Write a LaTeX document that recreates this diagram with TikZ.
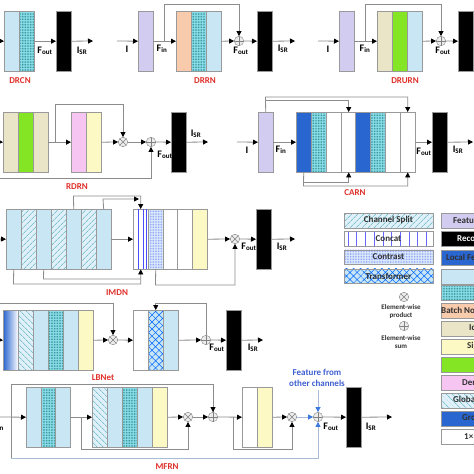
\documentclass[tikz,border=0pt]{standalone}
\usepackage{fontspec}
\setmainfont{Carlito}
\usetikzlibrary{arrows.meta,patterns.meta}
\definecolor{lbluec}{HTML}{C9E6F5}
\definecolor{cyanc}{HTML}{8EE0EC}
\definecolor{pchc}{HTML}{F8CBAD}
\definecolor{khkc}{HTML}{E9E5C6}
\definecolor{grnc}{HTML}{84E524}
\definecolor{pnkc}{HTML}{F6C5F2}
\definecolor{ylwc}{HTML}{FDF9C4}
\definecolor{lvdc}{HTML}{D3CCF1}
\definecolor{dkbc}{HTML}{2A66CF}
\definecolor{hatchc}{HTML}{4CA9B8}
\definecolor{wirec}{HTML}{8C8C8C}
\definecolor{bwirec}{HTML}{A9BCD6}
\definecolor{redlbl}{HTML}{E0302A}
\definecolor{bluelbl}{HTML}{3F5FD0}
\definecolor{barrow}{HTML}{3A78E0}
\definecolor{txtc}{HTML}{303030}

\begin{document}
\begin{tikzpicture}[x=1pt,y=-1pt,font=\bfseries,
  seg/.style={draw=gray!80,minimum width=15pt,minimum height=60pt,inner sep=0pt,anchor=north west},
  lb/.style={fill=lbluec},
  cy/.style={preaction={fill=cyanc},pattern={Dots[distance=1.6pt,radius=0.4pt]},pattern color=teal!80!black},
  dt/.style={preaction={fill=lbluec!70},pattern={Dots[distance=1.6pt,radius=0.4pt]},pattern color=blue!55},
  hne/.style={preaction={fill=lbluec!60},pattern={Lines[angle=45,distance=4pt,line width=0.5pt]},pattern color=hatchc},
  hnw/.style={preaction={fill=lbluec!60},pattern={Lines[angle=-45,distance=4pt,line width=0.5pt]},pattern color=hatchc},
  xh/.style={preaction={fill=lbluec},pattern={Hatch[angle=45,distance=5pt,line width=0.5pt]},pattern color=blue!60!cyan},
  cc/.style={fill=white,pattern={Lines[angle=90,distance=8.7pt,line width=0.6pt]},pattern color=blue!60},
  pch/.style={fill=pchc}, khk/.style={fill=khkc}, grn/.style={fill=grnc},
  pnk/.style={fill=pnkc}, ylw/.style={fill=ylwc}, lvd/.style={fill=lvdc},
  dkb/.style={fill=dkbc}, wht/.style={fill=white}, blk/.style={fill=black},
  grd/.style={left color=dkbc,right color=white},
  wire/.style={draw=wirec,line width=0.8pt},
  conn/.style={wire,-{Triangle[length=5pt,width=5pt,color=black]}},
  bconn/.style={draw=bwirec,line width=0.8pt,-{Triangle[length=5pt,width=5pt,color=barrow]}},
  opc/.style={circle,draw=gray,fill=gray!15,minimum size=9.5pt,inner sep=0pt},
  oplus/.style={opc,path picture={\draw[gray] (path picture bounding box.north) -- (path picture bounding box.south) (path picture bounding box.west) -- (path picture bounding box.east);}},
  otimes/.style={opc,path picture={\draw[gray] (path picture bounding box.north west) -- (path picture bounding box.south east) (path picture bounding box.north east) -- (path picture bounding box.south west);}},
  lbl/.style={inner sep=0pt,font=\bfseries\normalsize},
  netlbl/.style={inner sep=0pt,text=redlbl,font=\bfseries\fontsize{9}{10}\selectfont},
  lgbox/.style={draw=gray!80,minimum width=89pt,minimum height=14.5pt,inner sep=0pt,text=txtc,font=\bfseries\small},
  rbox/.style={draw=gray!80,minimum width=90pt,minimum height=14.5pt,inner sep=0pt,anchor=north west},
  rtxt/.style={inner sep=0pt,anchor=west,font=\bfseries\small}]
\useasboundingbox (0,0) rectangle (474,474);
\fill[white] (0,0) rectangle (474,474);
\clip (0,0) rectangle (474,474);

% DRCN
\coordinate (drcnI) at (0,41);
\foreach \x/\s [count=\i] in {4/lb,19/cy} \node[seg,\s] (drcn\i) at (\x,11) {};
\node[seg,blk] (drcnR) at (56,11) {};
\coordinate (drcnO) at (93,41);
\draw[conn] (drcnI) -- (drcn1.west);
\draw[conn] (drcn2.east) -- (drcnR.west);
\draw[conn] (drcnR.east) -- (drcnO);
\node[lbl] (drcnF) at (45,51) {F\textsubscript{out}};
\node[lbl] (drcnS) at (82,51) {I\textsubscript{SR}};
\node[netlbl] (drcnN) at (20,81) {DRCN};

% DRRN
\coordinate (drrnI) at (117,41);
\node[seg,lvd] (drrnE) at (138,11) {};
\foreach \x/\s [count=\i] in {176/pch,191/cy,206/lb} \node[seg,\s] (drrn\i) at (\x,11) {};
\node[oplus] (drrnP) at (239,41) {};
\node[seg,blk] (drrnR) at (257,11) {};
\coordinate (drrnO) at (295,41);
\coordinate (drrnB) at (164,41);
\draw[conn] (drrnI) -- (drrnE.west);
\draw[conn] (drrnE.east) -- (drrn1.west);
\draw[conn] (drrnB) -- (164,4) -| (drrnP.north);
\draw[conn] (drrn3.east) -- (drrnP.west);
\draw[conn] (drrnP.east) -- (drrnR.west);
\draw[conn] (drrnR.east) -- (drrnO);
\node[lbl] (drrnIl) at (127,49) {I};
\node[lbl] (drrnFi) at (162,49) {F\textsubscript{in}};
\node[lbl] (drrnF) at (241,51) {F\textsubscript{out}};
\node[lbl] (drrnS) at (283,49) {I\textsubscript{SR}};
\node[netlbl] (drrnN) at (205,81) {DRRN};

% DRURN
\coordinate (drurnI) at (318,41);
\node[seg,lvd] (drurnE) at (339,11) {};
\foreach \x/\s [count=\i] in {377/khk,392/grn,407/lb} \node[seg,\s] (drurn\i) at (\x,11) {};
\node[oplus] (drurnP) at (441,41) {};
\node[seg,blk] (drurnR) at (458,11) {};
\coordinate (drurnB) at (365,41);
\draw[conn] (drurnI) -- (drurnE.west);
\draw[conn] (drurnE.east) -- (drurn1.west);
\draw[conn] (drurnB) -- (365,4) -| (drurnP.north);
\draw[conn] (drurn3.east) -- (drurnP.west);
\draw[conn] (drurnP.east) -- (drurnR.west);
\node[lbl] (drurnIl) at (328,49) {I};
\node[lbl] (drurnFi) at (365,49) {F\textsubscript{in}};
\node[lbl] (drurnF) at (443,51) {F\textsubscript{out}};
\node[netlbl] (drurnN) at (405,81) {DRURN};

% RDRN
\coordinate (rdrnI) at (0,142);
\foreach \x/\s [count=\i] in {3/khk,18/grn,33/khk} \node[seg,\s] (rdrn\i) at (\x,112) {};
\foreach \x/\s [count=\i] in {71/pnk,86/ylw} \node[seg,\s] (rdrnM\i) at (\x,112) {};
\node[otimes] (rdrnX) at (123,142) {};
\node[oplus] (rdrnP) at (151,142) {};
\node[seg,blk] (rdrnR) at (171,112) {};
\coordinate (rdrnO) at (208,142);
\coordinate (rdrnB) at (55,142);
\coordinate (rdrnL) at (0,178);
\draw[conn] (rdrnI) -- (rdrn1.west);
\draw[conn] (rdrn3.east) -- (rdrnM1.west);
\draw[conn] (rdrnB) -- (55,104) -| (rdrnX.north);
\draw[conn] (rdrnM2.east) -- (rdrnX.west);
\draw[conn] (rdrnX.east) -- (rdrnP.west);
\draw[conn] (rdrnL) -| (rdrnP.south);
\draw[conn] (rdrnP.east) -- (rdrnR.west);
\draw[conn] (rdrnR.east) -- (rdrnO);
\node[lbl] (rdrnS) at (196,134) {I\textsubscript{SR}};
\node[lbl] (rdrnF) at (165,155) {F\textsubscript{out}};
\node[netlbl] (rdrnN) at (77,187) {RDRN};

% CARN
\coordinate (carnI) at (237,142);
\node[seg,lvd] (carnE) at (258,112) {};
\foreach \x/\s [count=\i] in {296/dkb,311/cy,326/wht,341/wht,355/dkb,370/cy,385/wht,400/wht} \node[seg,\s] (carn\i) at (\x,112) {};
\node[seg,blk] (carnR) at (432,112) {};
\coordinate (carnO) at (473,142);
\draw[conn] (carnI) -- (carnE.west);
\draw[conn] (carnE.east) -- (carn1.west);
\draw[conn] (carnE.north) -- (265.5,97) -| (carn8.north);
\draw[conn] (265.5,100) -| (carn4.north);
\draw[conn] (carn1.south) -- (303.5,186) -| (carn8.south);
\draw[conn] (303.5,182) -| (carn4.south);
\draw[conn] (carn8.east) -- (carnR.west);
\draw[conn] (carnR.east) -- (carnO);
\node[lbl] (carnIl) at (247,150) {I};
\node[lbl] (carnFi) at (281,150) {F\textsubscript{in}};
\node[lbl] (carnF) at (424,152) {F\textsubscript{out}};
\node[lbl] (carnS) at (458,150) {I\textsubscript{SR}};
\node[netlbl] (carnN) at (355,193) {CARN};

% IMDN
\coordinate (imdnI) at (0,239);
\foreach \x/\s [count=\i] in {6/lb,21/hne,36/lb,51/hne,66/lb,81/hne,96/lb} \node[seg,\s] (imdn\i) at (\x,209) {};
\foreach \x/\s [count=\i] in {133/wht,148/dt,163/wht,177/wht,192/ylw} \node[seg,\s] (imdnM\i) at (\x,209) {};
\foreach \x in {138,143.5,146} \draw[blue!70,line width=0.6pt] (\x,209) -- (\x,269);
\node[otimes] (imdnX) at (235,239) {};
\node[seg,blk] (imdnR) at (256,209) {};
\coordinate (imdnO) at (295,239);
\draw[conn] (imdnI) -- (imdn1.west);
\draw[conn] (imdn7.east) -- (imdnM1.west);
\draw[conn] (imdn5.north) -- (73.5,196) -| (imdnM1.north);
\draw[conn] (imdn7.north) -- (103,199) -- (139,199);
\draw[conn] (imdn1.south) -- (13.5,284) -| (imdnM1.south);
\draw[wire] (imdn3.south) -- (43.5,279) -- (140.5,279);
\draw[conn] (imdnM2.south) -- (155.5,285) -| (imdnX.south);
\draw[conn] (imdnM5.east) -- (imdnX.west);
\draw[conn] (imdnX.east) -- (imdnR.west);
\draw[conn] (imdnR.east) -- (imdnO);
\node[lbl] (imdnF) at (249,247) {F\textsubscript{out}};
\node[lbl] (imdnS) at (282,247) {I\textsubscript{SR}};
\node[netlbl] (imdnN) at (117,293) {IMDN};

% LBNet
\coordinate (lbnI) at (0,340);
\coordinate (lbnL) at (0,303);
\foreach \x/\s [count=\i] in {3/grd,18/hnw,33/lb,48/cy,63/lb,78/ylw} \node[seg,\s] (lbn\i) at (\x,310) {};
\node[otimes] (lbnX) at (113,340) {};
\foreach \x/\s [count=\i] in {133/wht,148/xh,163/lb} \node[seg,\s] (lbnM\i) at (\x,310) {};
\node[oplus] (lbnP) at (206,340) {};
\node[seg,blk] (lbnR) at (226,310) {};
\coordinate (lbnO) at (263,340);
\draw[conn] (lbnI) -- (lbn1.west);
\draw[conn] (lbnL) -| (lbnX.north);
\draw[conn] (lbn6.east) -- (lbnX.west);
\draw[conn] (lbnX.east) -- (lbnM1.west);
\draw[conn] (lbnM3.east) -- (lbnP.west);
\draw[conn] (lbnP.north) -- (206,303) -| (lbnM2.north);
\draw[conn] (lbnP.east) -- (lbnR.west);
\draw[conn] (lbnR.east) -- (lbnO);
\node[lbl] (lbnF) at (217,348) {F\textsubscript{out}};
\node[lbl] (lbnS) at (253,348) {I\textsubscript{SR}};
\node[netlbl] (lbnN) at (103,378) {LBNet};

% MFRN
\coordinate (mfrnI) at (0,417);
\coordinate (mfrnB) at (11,417);
\coordinate (mfrnC) at (81,417);
\coordinate (mfrnD) at (233,417);
\coordinate (mfrnT) at (318,390);
\foreach \x/\s [count=\i] in {26/lb,41/cy,55/lb} \node[seg,\s] (mfrn\i) at (\x,387) {};
\foreach \x/\s [count=\i] in {92/hnw,107/lb,122/cy,137/lb,152/ylw} \node[seg,\s] (mfrnM\i) at (\x,387) {};
\node[otimes] (mfrnX) at (188,417) {};
\node[oplus] (mfrnP) at (213,417) {};
\foreach \x/\s [count=\i] in {242/wht,257/ylw} \node[seg,\s] (mfrnK\i) at (\x,387) {};
\node[otimes] (mfrnY) at (292,417) {};
\node[oplus] (mfrnQ) at (318,417) {};
\node[seg,blk] (mfrnR) at (346,387) {};
\coordinate (mfrnO) at (392,417);
\draw[conn] (mfrnI) -- (mfrn1.west);
\draw[wire] (mfrnB) -- (11,384) -| (mfrnP.north);
\draw[conn] (213,384) -- (mfrnP.north);
\draw[wire] (mfrnB) -- (11,458);
\draw[bconn] (11,458) -| (mfrnQ.south);
\draw[conn] (mfrn3.east) -- (mfrnM1.west);
\draw[conn] (mfrnC) -- (81,449) -| (mfrnX.south);
\draw[conn] (mfrnM5.east) -- (mfrnX.west);
\draw[conn] (mfrnX.east) -- (mfrnP.west);
\draw[conn] (mfrnP.east) -- (mfrnK1.west);
\draw[conn] (mfrnD) -- (233,449) -| (mfrnY.south);
\draw[conn] (mfrnK2.east) -- (mfrnY.west);
\draw[bconn] (mfrnY.east) -- (mfrnQ.west);
\draw[bconn] (mfrnT) -- (mfrnQ.north);
\draw[conn] (mfrnQ.east) -- (mfrnR.west);
\draw[conn] (mfrnR.east) -- (mfrnO);
\node[lbl,anchor=east] (mfrnFi) at (4,427) {F\textsubscript{in}};
\node[lbl] (mfrnF) at (331,427) {F\textsubscript{out}};
\node[lbl] (mfrnS) at (371,427) {I\textsubscript{SR}};
\node[inner sep=0pt,text=bluelbl,font=\bfseries\small,align=center] (mfrnT1) at (317,378) {Feature from\\other channels};
\node[netlbl] (mfrnN) at (167,467) {MFRN};

% legend
\foreach \y/\s/\t [count=\i] in {220.5/hne/Channel Split,238.5/cc/Concat,257/dt/Contrast,276/xh/Transformer}
  \node[lgbox,\s] (lg\i) at (388.5,\y) {\t};
\node[otimes] (lgX) at (404,297) {};
\node[inner sep=0pt,text=txtc,font=\bfseries\scriptsize,align=center] (lgXt) at (401,312) {Element-wise\\product};
\node[oplus] (lgP) at (404,326) {};
\node[inner sep=0pt,text=txtc,font=\bfseries\scriptsize,align=center] (lgPt) at (401,342) {Element-wise\\sum};
\foreach \y/\s/\x/\c/\t [count=\i] in {213/lvd/453/txtc/Feature Extraction,231/blk/457/white/Reconstruction,250/dkb/446/txtc/Local Feature Fusion,269/lb/480/txtc/Conv,285/cy/480/txtc/Conv,303/pch/441/txtc/Batch Normalization,321/khk/469/txtc/Identity,339/ylw/467/txtc/Sigmoid,357/grn/480/txtc/ReLU,375/pnk/462/txtc/Dense Block,393/hnw/453/txtc/Global Pooling,411/dkb/462/txtc/Group Conv,429/wht/464/txtc/1×1 Conv} {
  \node[rbox,\s] (lgr\i) at (441,\y) {};
  \node[rtxt,text=\c] (lgrt\i) at (\x,\y+7.25) {\t};
}
\end{tikzpicture}
\end{document}
